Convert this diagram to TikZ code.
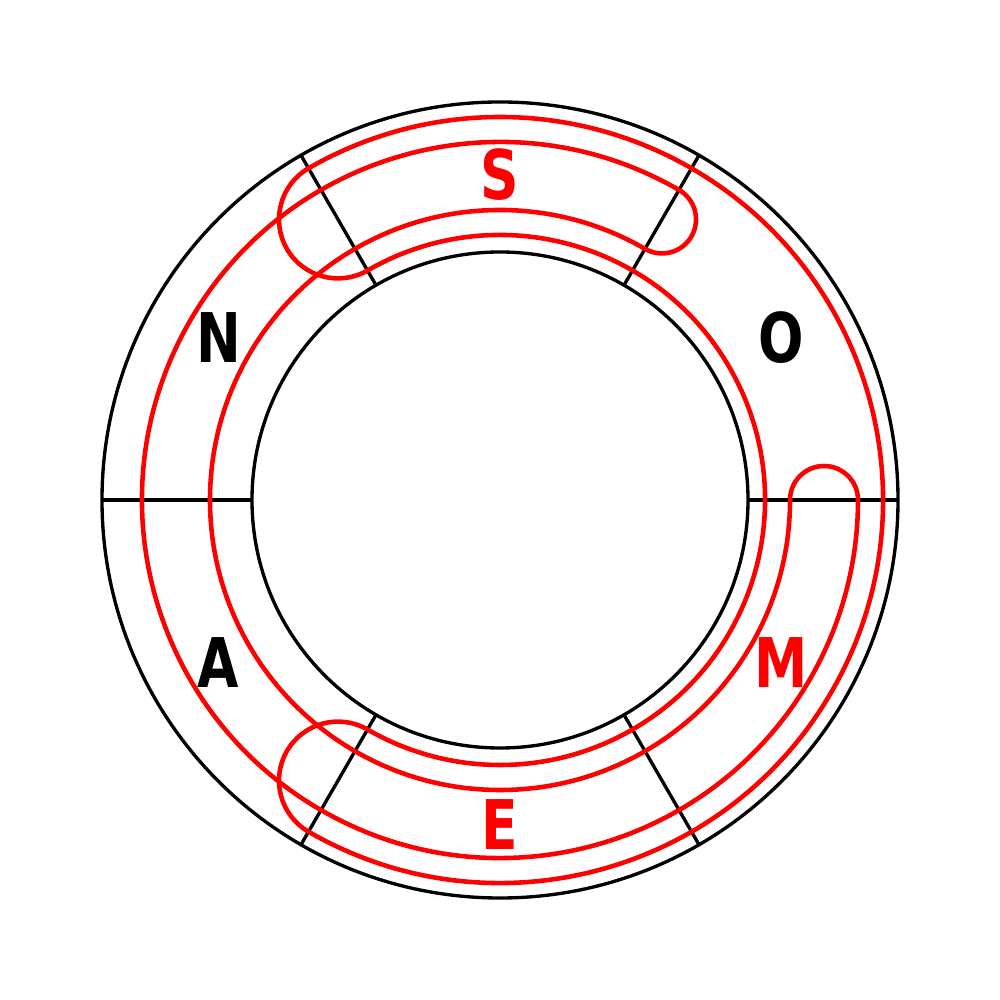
\documentclass[tikz,border=0pt]{standalone}
\usepackage{fontspec}
\setmainfont{DejaVu Sans}
\newfontfamily\lblfont[FakeStretch=0.78]{DejaVu Sans}
\begin{document}
\begin{tikzpicture}[
  ring/.style={line width=0.95pt, black},
  band/.style={line width=1.3pt, red},
  lbl/.style={font=\lblfont\fontsize{19.5}{20}\selectfont\bfseries, inner sep=0pt},
]
\useasboundingbox (-5,-5) rectangle (5,5);
% rings and sector dividers
\draw[ring] (0,0) circle (3.98);
\draw[ring] (0,0) circle (2.48);
\foreach \a in {0,60,...,300} \draw[ring] (\a:2.48) -- (\a:3.98);
% band 1 (outer/inner), open over the left
\draw[band] (-120:3.83) arc[start angle=-120, end angle=120, radius=3.83]
  arc[start angle=120, end angle=300, radius=0.59]
  arc[start angle=120, end angle=-120, radius=2.65]
  arc[start angle=60, end angle=240, radius=0.59] -- cycle;
% band 2 (middle), open over the upper right
\draw[band] (60:3.58) arc[start angle=60, end angle=360, radius=3.58]
  arc[start angle=0, end angle=180, radius=0.34]
  arc[start angle=360, end angle=60, radius=2.90]
  arc[start angle=240, end angle=420, radius=0.34] -- cycle;
% labels
\node[lbl] (N) at (150:3.25) {N};
\node[lbl] (O) at (30:3.25) {O};
\node[lbl] (A) at (210:3.25) {A};
\node[lbl, red] (S) at (90:3.25) {S};
\node[lbl, red] (M) at (330:3.25) {M};
\node[lbl, red] (E) at (270:3.25) {E};
\end{tikzpicture}
\end{document}
